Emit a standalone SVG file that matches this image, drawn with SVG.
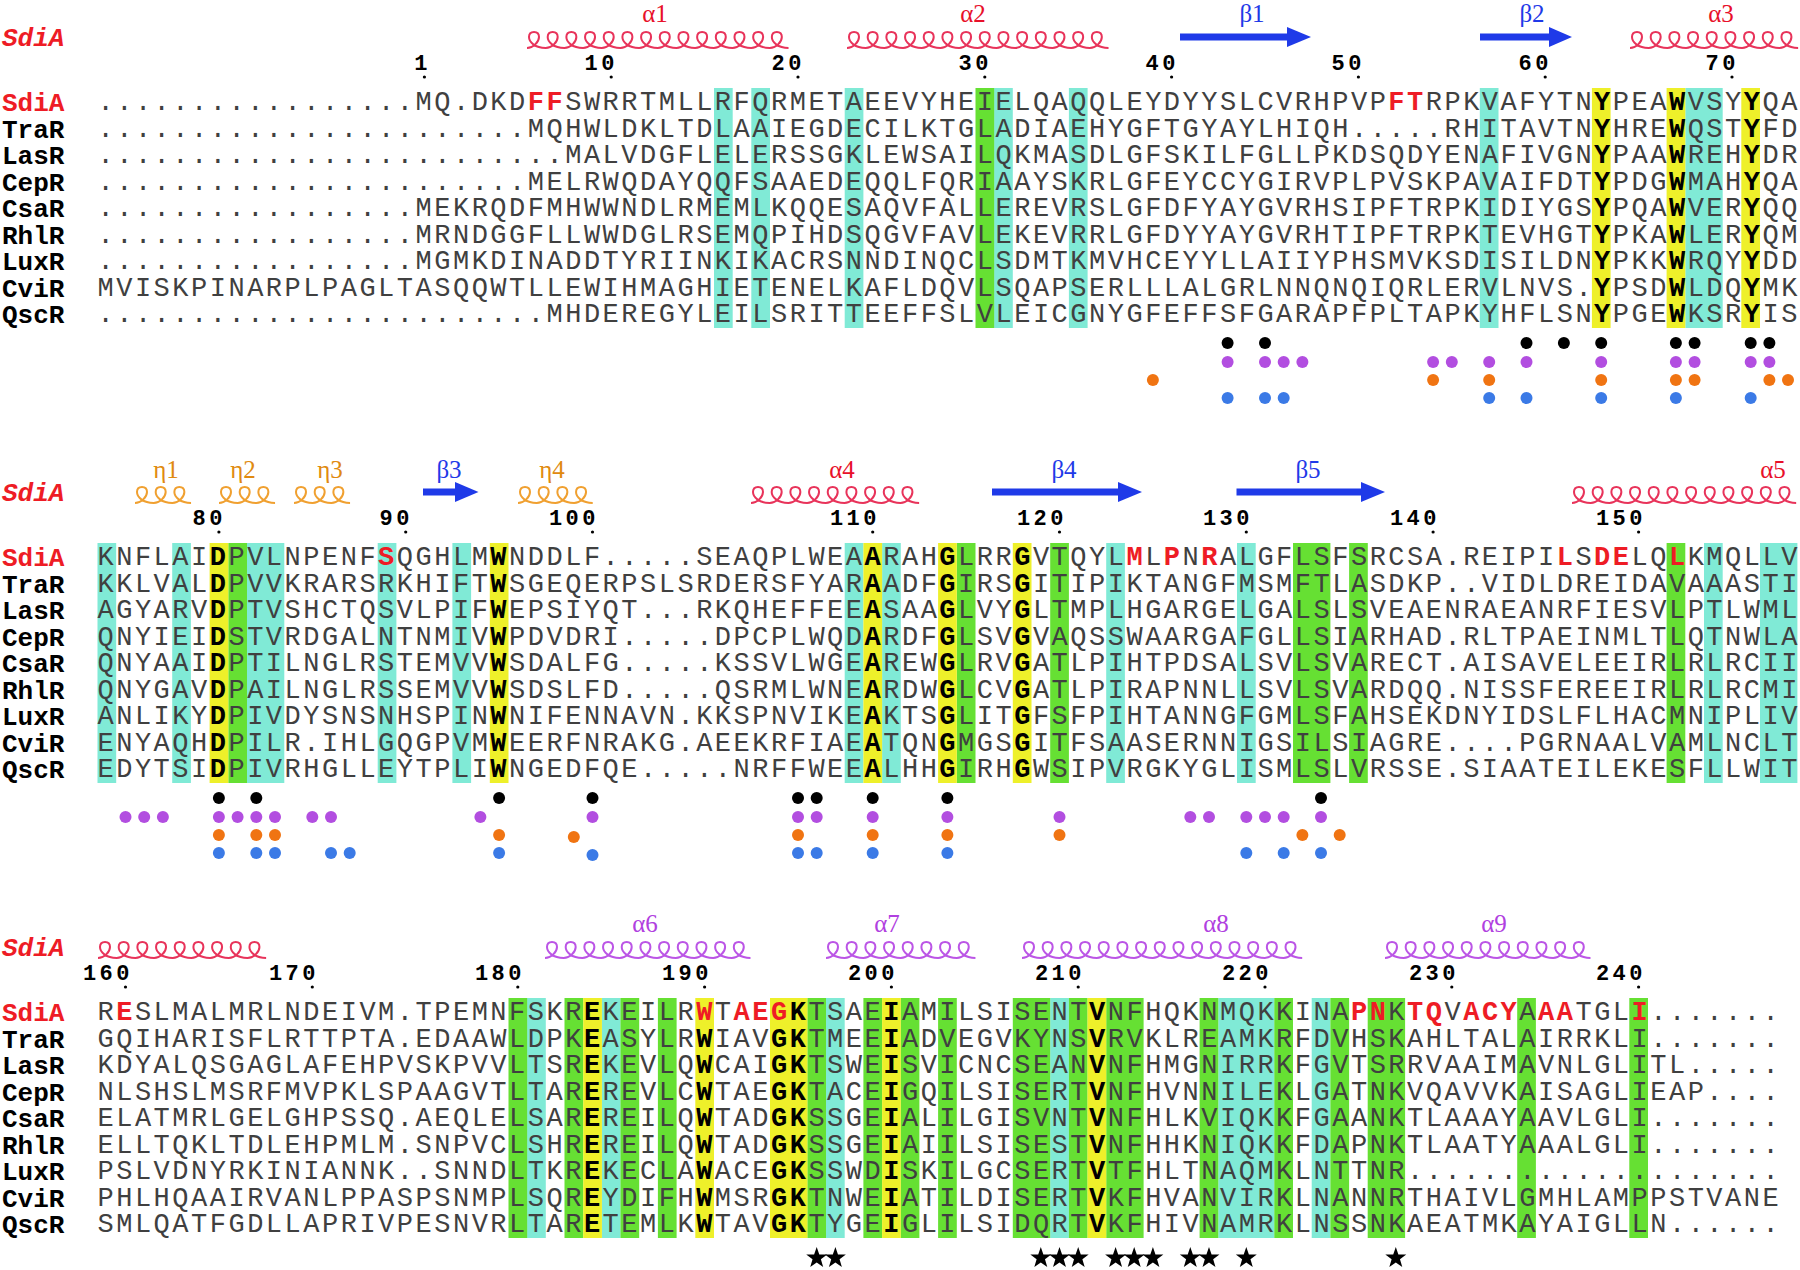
<svg xmlns="http://www.w3.org/2000/svg" xmlns:xlink="http://www.w3.org/1999/xlink" width="1800" height="1270" viewBox="0 0 1800 1270">
<style>
.s{font-family:"Liberation Mono",monospace;font-size:27px;fill:#404040}
.b{font-weight:bold;fill:#000}
.r{font-weight:bold;fill:#ee1c25}
.nm{font-family:"Liberation Mono",monospace;font-weight:bold;font-size:26px;fill:#000}
.hd{font-family:"Liberation Mono",monospace;font-weight:bold;font-style:italic;font-size:26px;fill:#ee1c25}
.num{font-family:"Liberation Mono",monospace;font-weight:bold;font-size:22px;letter-spacing:3.5px;fill:#000;text-anchor:end}
.lab{font-family:"Liberation Serif",serif;font-size:25px;text-anchor:middle}
.cy{fill:#80ead6}.gr{fill:#66e033}.ye{fill:#eef02a}
.hr{fill:none;stroke:#e8335a;stroke-width:2}
.hv{fill:none;stroke:#bb55e6;stroke-width:2}
.he{fill:none;stroke:#f0a030;stroke-width:2}
.be{fill:#1f3ae8}
.dk{fill:#000}.dm{fill:#b24ee0}.do{fill:#f07412}.db{fill:#3b7ae6}
</style>
<defs>
<polygon id="star" points="0,-11 2.59,-3.56 10.46,-3.4 4.18,1.36 6.47,8.9 0,4.4 -6.47,8.9 -4.18,1.36 -10.46,-3.4 -2.59,-3.56" fill="#000"/>
</defs>
<rect width="1800" height="1270" fill="#fff"/>

<g id="block1">
<g id="b1-shading">
<rect class="cy" x="714" y="88" width="18.7" height="240"/>
<rect class="cy" x="751.3" y="88" width="18.7" height="240"/>
<rect class="cy" x="844.7" y="88" width="18.7" height="240"/>
<rect class="cy" x="994.1" y="88" width="18.7" height="240"/>
<rect class="cy" x="1068.9" y="88" width="18.7" height="240"/>
<rect class="cy" x="1479.8" y="88" width="18.7" height="240"/>
<rect class="cy" x="1685.3" y="88" width="37.4" height="240"/>
<rect class="gr" x="975.5" y="88" width="18.7" height="240"/>
<rect class="ye" x="1591.9" y="88" width="18.7" height="240"/>
<rect class="ye" x="1666.6" y="88" width="18.7" height="240"/>
<rect class="ye" x="1741.3" y="88" width="18.7" height="240"/>
</g>
<g id="b1-ss">
<text class="hd" x="2" y="46">SdiA</text>
<path class="hr" d="M527,48 c6,0 12,-6 12,-11 c0,-3 -2,-5 -5,-5 c-3,0 -5,2 -5,5 c0,5 6,11 16.68,11 c6,0 12,-6 12,-11 c0,-3 -2,-5 -5,-5 c-3,0 -5,2 -5,5 c0,5 6,11 16.68,11 c6,0 12,-6 12,-11 c0,-3 -2,-5 -5,-5 c-3,0 -5,2 -5,5 c0,5 6,11 16.68,11 c6,0 12,-6 12,-11 c0,-3 -2,-5 -5,-5 c-3,0 -5,2 -5,5 c0,5 6,11 16.68,11 c6,0 12,-6 12,-11 c0,-3 -2,-5 -5,-5 c-3,0 -5,2 -5,5 c0,5 6,11 16.68,11 c6,0 12,-6 12,-11 c0,-3 -2,-5 -5,-5 c-3,0 -5,2 -5,5 c0,5 6,11 16.68,11 c6,0 12,-6 12,-11 c0,-3 -2,-5 -5,-5 c-3,0 -5,2 -5,5 c0,5 6,11 16.68,11 c6,0 12,-6 12,-11 c0,-3 -2,-5 -5,-5 c-3,0 -5,2 -5,5 c0,5 6,11 16.68,11 c6,0 12,-6 12,-11 c0,-3 -2,-5 -5,-5 c-3,0 -5,2 -5,5 c0,5 6,11 16.68,11 c6,0 12,-6 12,-11 c0,-3 -2,-5 -5,-5 c-3,0 -5,2 -5,5 c0,5 6,11 16.68,11 c6,0 12,-6 12,-11 c0,-3 -2,-5 -5,-5 c-3,0 -5,2 -5,5 c0,5 6,11 16.68,11 c6,0 12,-6 12,-11 c0,-3 -2,-5 -5,-5 c-3,0 -5,2 -5,5 c0,5 6,11 16.68,11 c6,0 12,-6 12,-11 c0,-3 -2,-5 -5,-5 c-3,0 -5,2 -5,5 c0,5 6,11 16.68,11 c6,0 12,-6 12,-11 c0,-3 -2,-5 -5,-5 c-3,0 -5,2 -5,5 c0,5 6,11 16.68,11"/>
<text class="lab" x="655" y="22" fill="#e8102a">α1</text>
<path class="hr" d="M847,48 c6,0 12,-6 12,-11 c0,-3 -2,-5 -5,-5 c-3,0 -5,2 -5,5 c0,5 6,11 16.68,11 c6,0 12,-6 12,-11 c0,-3 -2,-5 -5,-5 c-3,0 -5,2 -5,5 c0,5 6,11 16.68,11 c6,0 12,-6 12,-11 c0,-3 -2,-5 -5,-5 c-3,0 -5,2 -5,5 c0,5 6,11 16.68,11 c6,0 12,-6 12,-11 c0,-3 -2,-5 -5,-5 c-3,0 -5,2 -5,5 c0,5 6,11 16.68,11 c6,0 12,-6 12,-11 c0,-3 -2,-5 -5,-5 c-3,0 -5,2 -5,5 c0,5 6,11 16.68,11 c6,0 12,-6 12,-11 c0,-3 -2,-5 -5,-5 c-3,0 -5,2 -5,5 c0,5 6,11 16.68,11 c6,0 12,-6 12,-11 c0,-3 -2,-5 -5,-5 c-3,0 -5,2 -5,5 c0,5 6,11 16.68,11 c6,0 12,-6 12,-11 c0,-3 -2,-5 -5,-5 c-3,0 -5,2 -5,5 c0,5 6,11 16.68,11 c6,0 12,-6 12,-11 c0,-3 -2,-5 -5,-5 c-3,0 -5,2 -5,5 c0,5 6,11 16.68,11 c6,0 12,-6 12,-11 c0,-3 -2,-5 -5,-5 c-3,0 -5,2 -5,5 c0,5 6,11 16.68,11 c6,0 12,-6 12,-11 c0,-3 -2,-5 -5,-5 c-3,0 -5,2 -5,5 c0,5 6,11 16.68,11 c6,0 12,-6 12,-11 c0,-3 -2,-5 -5,-5 c-3,0 -5,2 -5,5 c0,5 6,11 16.68,11 c6,0 12,-6 12,-11 c0,-3 -2,-5 -5,-5 c-3,0 -5,2 -5,5 c0,5 6,11 16.68,11 c6,0 12,-6 12,-11 c0,-3 -2,-5 -5,-5 c-3,0 -5,2 -5,5 c0,5 6,11 16.68,11"/>
<text class="lab" x="973" y="22" fill="#e8102a">α2</text>
<rect class="be" x="1180" y="33.5" width="110" height="7"/><polygon class="be" points="1287,27 1311,37 1287,47"/>
<text class="lab" x="1252" y="22" fill="#1f3ae8">β1</text>
<rect class="be" x="1480" y="33.5" width="72" height="7"/><polygon class="be" points="1549,27 1572,37 1549,47"/>
<text class="lab" x="1532" y="22" fill="#1f3ae8">β2</text>
<path class="hr" d="M1630,48 c6,0 12,-6 12,-11 c0,-3 -2,-5 -5,-5 c-3,0 -5,2 -5,5 c0,5 6,11 16.68,11 c6,0 12,-6 12,-11 c0,-3 -2,-5 -5,-5 c-3,0 -5,2 -5,5 c0,5 6,11 16.68,11 c6,0 12,-6 12,-11 c0,-3 -2,-5 -5,-5 c-3,0 -5,2 -5,5 c0,5 6,11 16.68,11 c6,0 12,-6 12,-11 c0,-3 -2,-5 -5,-5 c-3,0 -5,2 -5,5 c0,5 6,11 16.68,11 c6,0 12,-6 12,-11 c0,-3 -2,-5 -5,-5 c-3,0 -5,2 -5,5 c0,5 6,11 16.68,11 c6,0 12,-6 12,-11 c0,-3 -2,-5 -5,-5 c-3,0 -5,2 -5,5 c0,5 6,11 16.68,11 c6,0 12,-6 12,-11 c0,-3 -2,-5 -5,-5 c-3,0 -5,2 -5,5 c0,5 6,11 16.68,11 c6,0 12,-6 12,-11 c0,-3 -2,-5 -5,-5 c-3,0 -5,2 -5,5 c0,5 6,11 16.68,11 c6,0 12,-6 12,-11 c0,-3 -2,-5 -5,-5 c-3,0 -5,2 -5,5 c0,5 6,11 16.68,11"/>
<text class="lab" x="1721" y="22" fill="#e8102a">α3</text>
</g>
<g id="b1-numbers">
<text class="num" x="431" y="70">1</text><text class="num" x="618" y="70">10</text><text class="num" x="805" y="70">20</text><text class="num" x="992" y="70">30</text><text class="num" x="1179" y="70">40</text><text class="num" x="1365" y="70">50</text><text class="num" x="1552" y="70">60</text><text class="num" x="1739" y="70">70</text>
<g fill="#000"><circle cx="424.4" cy="77" r="1.6"/><circle cx="611.2" cy="77" r="1.6"/><circle cx="798" cy="77" r="1.6"/><circle cx="984.8" cy="77" r="1.6"/><circle cx="1171.6" cy="77" r="1.6"/><circle cx="1358.4" cy="77" r="1.6"/><circle cx="1545.2" cy="77" r="1.6"/><circle cx="1732" cy="77" r="1.6"/></g>
</g>
<g id="b1-names">
<text class="nm" x="2" y="111" style="fill:#ee1c25">SdiA</text>
<text class="nm" x="2" y="137.5">TraR</text><text class="nm" x="2" y="164">LasR</text><text class="nm" x="2" y="190.5">CepR</text><text class="nm" x="2" y="217">CsaR</text><text class="nm" x="2" y="243.5">RhlR</text><text class="nm" x="2" y="270">LuxR</text><text class="nm" x="2" y="296.5">CviR</text><text class="nm" x="2" y="323">QscR</text>
</g>
<g id="b1-seq">
<text class="s" x="97.5" y="110" textLength="1699.9" lengthAdjust="spacing">.................MQ.DKD<tspan class="r">FF</tspan>SWRRTMLLRFQRMETAEEVYHEIELQAQQLEYDYYSLCVRHPVP<tspan class="r">FT</tspan>RPKVAFYTN<tspan class="b">Y</tspan>PEA<tspan class="b">W</tspan>VSY<tspan class="b">Y</tspan>QA</text>
<text class="s" x="97.5" y="136.5" textLength="1699.9" lengthAdjust="spacing">.......................MQHWLDKLTDLAAIEGDECILKTGLADIAEHYGFTGYAYLHIQH.....RHITAVTN<tspan class="b">Y</tspan>HRE<tspan class="b">W</tspan>QST<tspan class="b">Y</tspan>FD</text>
<text class="s" x="97.5" y="163" textLength="1699.9" lengthAdjust="spacing">.........................MALVDGFLELERSSGKLEWSAILQKMASDLGFSKILFGLLPKDSQDYENAFIVGN<tspan class="b">Y</tspan>PAA<tspan class="b">W</tspan>REH<tspan class="b">Y</tspan>DR</text>
<text class="s" x="97.5" y="189.5" textLength="1699.9" lengthAdjust="spacing">.......................MELRWQDAYQQFSAAEDEQQLFQRIAAYSKRLGFEYCCYGIRVPLPVSKPAVAIFDT<tspan class="b">Y</tspan>PDG<tspan class="b">W</tspan>MAH<tspan class="b">Y</tspan>QA</text>
<text class="s" x="97.5" y="216" textLength="1699.9" lengthAdjust="spacing">.................MEKRQDFMHWWNDLRMEMLKQQESAQVFALLEREVRSLGFDFYAYGVRHSIPFTRPKIDIYGS<tspan class="b">Y</tspan>PQA<tspan class="b">W</tspan>VER<tspan class="b">Y</tspan>QQ</text>
<text class="s" x="97.5" y="242.5" textLength="1699.9" lengthAdjust="spacing">.................MRNDGGFLLWWDGLRSEMQPIHDSQGVFAVLEKEVRRLGFDYYAYGVRHTIPFTRPKTEVHGT<tspan class="b">Y</tspan>PKA<tspan class="b">W</tspan>LER<tspan class="b">Y</tspan>QM</text>
<text class="s" x="97.5" y="269" textLength="1699.9" lengthAdjust="spacing">.................MGMKDINADDTYRIINKIKACRSNNDINQCLSDMTKMVHCEYYLLAIIYPHSMVKSDISILDN<tspan class="b">Y</tspan>PKK<tspan class="b">W</tspan>RQY<tspan class="b">Y</tspan>DD</text>
<text class="s" x="97.5" y="295.5" textLength="1699.9" lengthAdjust="spacing">MVISKPINARPLPAGLTASQQWTLLEWIHMAGHIETENELKAFLDQVLSQAPSERLLLALGRLNNQNQIQRLERVLNVS.<tspan class="b">Y</tspan>PSD<tspan class="b">W</tspan>LDQ<tspan class="b">Y</tspan>MK</text>
<text class="s" x="97.5" y="322" textLength="1699.9" lengthAdjust="spacing">........................MHDEREGYLEILSRITTEEFFSLVLEICGNYGFEFFSFGARAPFPLTAPKYHFLSN<tspan class="b">Y</tspan>PGE<tspan class="b">W</tspan>KSR<tspan class="b">Y</tspan>IS</text>
</g>
<g id="b1-dots">
<g class="dk"><circle cx="1227.6" cy="343" r="6"/><circle cx="1265" cy="343" r="6"/><circle cx="1526.5" cy="343" r="6"/><circle cx="1563.9" cy="343" r="6"/><circle cx="1601.2" cy="343" r="6"/><circle cx="1675.9" cy="343" r="6"/><circle cx="1694.6" cy="343" r="6"/><circle cx="1750.7" cy="343" r="6"/><circle cx="1769.4" cy="343" r="6"/></g>
<g class="dm"><circle cx="1227.6" cy="362" r="6"/><circle cx="1265" cy="362" r="6"/><circle cx="1283.7" cy="362" r="6"/><circle cx="1302.4" cy="362" r="6"/><circle cx="1433.1" cy="362" r="6"/><circle cx="1451.8" cy="362" r="6"/><circle cx="1489.2" cy="362" r="6"/><circle cx="1526.5" cy="362" r="6"/><circle cx="1601.2" cy="362" r="6"/><circle cx="1675.9" cy="362" r="6"/><circle cx="1694.6" cy="362" r="6"/><circle cx="1750.7" cy="362" r="6"/><circle cx="1769.4" cy="362" r="6"/></g>
<g class="do"><circle cx="1152.9" cy="380" r="6"/><circle cx="1433.1" cy="380" r="6"/><circle cx="1489.2" cy="380" r="6"/><circle cx="1601.2" cy="380" r="6"/><circle cx="1675.9" cy="380" r="6"/><circle cx="1694.6" cy="380" r="6"/><circle cx="1769.4" cy="380" r="6"/><circle cx="1788" cy="380" r="6"/></g>
<g class="db"><circle cx="1227.6" cy="398" r="6"/><circle cx="1265" cy="398" r="6"/><circle cx="1283.7" cy="398" r="6"/><circle cx="1489.2" cy="398" r="6"/><circle cx="1526.5" cy="398" r="6"/><circle cx="1601.2" cy="398" r="6"/><circle cx="1675.9" cy="398" r="6"/><circle cx="1750.7" cy="398" r="6"/></g>
</g>
</g>

<g id="block2">
<g id="b2-shading">
<rect class="cy" x="97.5" y="543" width="18.7" height="240"/>
<rect class="cy" x="172.2" y="543" width="18.7" height="240"/>
<rect class="cy" x="246.9" y="543" width="37.4" height="240"/>
<rect class="cy" x="377.7" y="543" width="18.7" height="240"/>
<rect class="cy" x="452.4" y="543" width="18.7" height="240"/>
<rect class="cy" x="844.7" y="543" width="18.7" height="240"/>
<rect class="cy" x="882.1" y="543" width="18.7" height="240"/>
<rect class="cy" x="1106.2" y="543" width="18.7" height="240"/>
<rect class="cy" x="1237" y="543" width="18.7" height="240"/>
<rect class="cy" x="1704" y="543" width="18.7" height="240"/>
<rect class="cy" x="1760" y="543" width="37.4" height="240"/>
<rect class="gr" x="228.3" y="543" width="18.7" height="240"/>
<rect class="gr" x="956.8" y="543" width="18.7" height="240"/>
<rect class="gr" x="1050.2" y="543" width="18.7" height="240"/>
<rect class="gr" x="1293" y="543" width="37.4" height="240"/>
<rect class="gr" x="1349.1" y="543" width="18.7" height="240"/>
<rect class="gr" x="1666.6" y="543" width="18.7" height="240"/>
<rect class="ye" x="209.6" y="543" width="18.7" height="240"/>
<rect class="ye" x="489.8" y="543" width="18.7" height="240"/>
<rect class="ye" x="863.4" y="543" width="18.7" height="240"/>
<rect class="ye" x="938.1" y="543" width="18.7" height="240"/>
<rect class="ye" x="1012.8" y="543" width="18.7" height="240"/>
</g>
<g id="b2-ss">
<text class="hd" x="2" y="501">SdiA</text>
<path class="he" d="M135,503 c6,0 12,-6 12,-11 c0,-3 -2,-5 -5,-5 c-3,0 -5,2 -5,5 c0,5 6,11 16.68,11 c6,0 12,-6 12,-11 c0,-3 -2,-5 -5,-5 c-3,0 -5,2 -5,5 c0,5 6,11 16.68,11 c6,0 12,-6 12,-11 c0,-3 -2,-5 -5,-5 c-3,0 -5,2 -5,5 c0,5 6,11 16.68,11"/>
<text class="lab" x="166" y="478" fill="#e08a10">η1</text>
<path class="he" d="M219,503 c6,0 12,-6 12,-11 c0,-3 -2,-5 -5,-5 c-3,0 -5,2 -5,5 c0,5 6,11 16.68,11 c6,0 12,-6 12,-11 c0,-3 -2,-5 -5,-5 c-3,0 -5,2 -5,5 c0,5 6,11 16.68,11 c6,0 12,-6 12,-11 c0,-3 -2,-5 -5,-5 c-3,0 -5,2 -5,5 c0,5 6,11 16.68,11"/>
<text class="lab" x="243" y="478" fill="#e08a10">η2</text>
<path class="he" d="M294,503 c6,0 12,-6 12,-11 c0,-3 -2,-5 -5,-5 c-3,0 -5,2 -5,5 c0,5 6,11 16.68,11 c6,0 12,-6 12,-11 c0,-3 -2,-5 -5,-5 c-3,0 -5,2 -5,5 c0,5 6,11 16.68,11 c6,0 12,-6 12,-11 c0,-3 -2,-5 -5,-5 c-3,0 -5,2 -5,5 c0,5 6,11 16.68,11"/>
<text class="lab" x="330" y="478" fill="#e08a10">η3</text>
<rect class="be" x="423" y="488.5" width="35" height="7"/><polygon class="be" points="455,482 478.5,492 455,502"/>
<text class="lab" x="449" y="478" fill="#1f3ae8">β3</text>
<path class="he" d="M518,503 c6,0 12,-6 12,-11 c0,-3 -2,-5 -5,-5 c-3,0 -5,2 -5,5 c0,5 6,11 16.68,11 c6,0 12,-6 12,-11 c0,-3 -2,-5 -5,-5 c-3,0 -5,2 -5,5 c0,5 6,11 16.68,11 c6,0 12,-6 12,-11 c0,-3 -2,-5 -5,-5 c-3,0 -5,2 -5,5 c0,5 6,11 16.68,11 c6,0 12,-6 12,-11 c0,-3 -2,-5 -5,-5 c-3,0 -5,2 -5,5 c0,5 6,11 16.68,11"/>
<text class="lab" x="552" y="478" fill="#e08a10">η4</text>
<path class="hr" d="M751,503 c6,0 12,-6 12,-11 c0,-3 -2,-5 -5,-5 c-3,0 -5,2 -5,5 c0,5 6,11 16.68,11 c6,0 12,-6 12,-11 c0,-3 -2,-5 -5,-5 c-3,0 -5,2 -5,5 c0,5 6,11 16.68,11 c6,0 12,-6 12,-11 c0,-3 -2,-5 -5,-5 c-3,0 -5,2 -5,5 c0,5 6,11 16.68,11 c6,0 12,-6 12,-11 c0,-3 -2,-5 -5,-5 c-3,0 -5,2 -5,5 c0,5 6,11 16.68,11 c6,0 12,-6 12,-11 c0,-3 -2,-5 -5,-5 c-3,0 -5,2 -5,5 c0,5 6,11 16.68,11 c6,0 12,-6 12,-11 c0,-3 -2,-5 -5,-5 c-3,0 -5,2 -5,5 c0,5 6,11 16.68,11 c6,0 12,-6 12,-11 c0,-3 -2,-5 -5,-5 c-3,0 -5,2 -5,5 c0,5 6,11 16.68,11 c6,0 12,-6 12,-11 c0,-3 -2,-5 -5,-5 c-3,0 -5,2 -5,5 c0,5 6,11 16.68,11 c6,0 12,-6 12,-11 c0,-3 -2,-5 -5,-5 c-3,0 -5,2 -5,5 c0,5 6,11 16.68,11"/>
<text class="lab" x="842" y="478" fill="#e8102a">α4</text>
<rect class="be" x="992" y="488.5" width="128" height="7"/><polygon class="be" points="1118,482 1142,492 1118,502"/>
<text class="lab" x="1064" y="478" fill="#1f3ae8">β4</text>
<rect class="be" x="1236.5" y="488.5" width="126" height="7"/><polygon class="be" points="1361,482 1385,492 1361,502"/>
<text class="lab" x="1308" y="478" fill="#1f3ae8">β5</text>
<path class="hr" d="M1572,503 c6,0 12,-6 12,-11 c0,-3 -2,-5 -5,-5 c-3,0 -5,2 -5,5 c0,5 6,11 16.68,11 c6,0 12,-6 12,-11 c0,-3 -2,-5 -5,-5 c-3,0 -5,2 -5,5 c0,5 6,11 16.68,11 c6,0 12,-6 12,-11 c0,-3 -2,-5 -5,-5 c-3,0 -5,2 -5,5 c0,5 6,11 16.68,11 c6,0 12,-6 12,-11 c0,-3 -2,-5 -5,-5 c-3,0 -5,2 -5,5 c0,5 6,11 16.68,11 c6,0 12,-6 12,-11 c0,-3 -2,-5 -5,-5 c-3,0 -5,2 -5,5 c0,5 6,11 16.68,11 c6,0 12,-6 12,-11 c0,-3 -2,-5 -5,-5 c-3,0 -5,2 -5,5 c0,5 6,11 16.68,11 c6,0 12,-6 12,-11 c0,-3 -2,-5 -5,-5 c-3,0 -5,2 -5,5 c0,5 6,11 16.68,11 c6,0 12,-6 12,-11 c0,-3 -2,-5 -5,-5 c-3,0 -5,2 -5,5 c0,5 6,11 16.68,11 c6,0 12,-6 12,-11 c0,-3 -2,-5 -5,-5 c-3,0 -5,2 -5,5 c0,5 6,11 16.68,11 c6,0 12,-6 12,-11 c0,-3 -2,-5 -5,-5 c-3,0 -5,2 -5,5 c0,5 6,11 16.68,11 c6,0 12,-6 12,-11 c0,-3 -2,-5 -5,-5 c-3,0 -5,2 -5,5 c0,5 6,11 16.68,11 c6,0 12,-6 12,-11 c0,-3 -2,-5 -5,-5 c-3,0 -5,2 -5,5 c0,5 6,11 16.68,11"/>
<text class="lab" x="1773" y="478" fill="#e8102a">α5</text>
</g>
<g id="b2-numbers">
<text class="num" x="226" y="525">80</text><text class="num" x="413" y="525">90</text><text class="num" x="599" y="525">100</text><text class="num" x="880" y="525">110</text><text class="num" x="1067" y="525">120</text><text class="num" x="1253" y="525">130</text><text class="num" x="1440" y="525">140</text><text class="num" x="1646" y="525">150</text>
<g fill="#000"><circle cx="218.9" cy="532" r="1.6"/><circle cx="405.7" cy="532" r="1.6"/><circle cx="592.5" cy="532" r="1.6"/><circle cx="872.7" cy="532" r="1.6"/><circle cx="1059.5" cy="532" r="1.6"/><circle cx="1246.3" cy="532" r="1.6"/><circle cx="1433.1" cy="532" r="1.6"/><circle cx="1638.6" cy="532" r="1.6"/></g>
</g>
<g id="b2-names">
<text class="nm" x="2" y="566" style="fill:#ee1c25">SdiA</text>
<text class="nm" x="2" y="592.5">TraR</text><text class="nm" x="2" y="619">LasR</text><text class="nm" x="2" y="645.5">CepR</text><text class="nm" x="2" y="672">CsaR</text><text class="nm" x="2" y="698.5">RhlR</text><text class="nm" x="2" y="725">LuxR</text><text class="nm" x="2" y="751.5">CviR</text><text class="nm" x="2" y="778">QscR</text>
</g>
<g id="b2-seq">
<text class="s" x="97.5" y="565" textLength="1699.9" lengthAdjust="spacing">KNFLAI<tspan class="b">D</tspan>PVLNPENF<tspan class="r">S</tspan>QGHLM<tspan class="b">W</tspan>NDDLF.....SEAQPLWEA<tspan class="b">A</tspan>RAH<tspan class="b">G</tspan>LRR<tspan class="b">G</tspan>VTQYL<tspan class="r">M</tspan>L<tspan class="r">P</tspan>N<tspan class="r">R</tspan>ALGFLSFSRCSA.REIPI<tspan class="r">L</tspan>S<tspan class="r">DE</tspan>LQ<tspan class="r">L</tspan>KMQLLV</text>
<text class="s" x="97.5" y="591.5" textLength="1699.9" lengthAdjust="spacing">KKLVAL<tspan class="b">D</tspan>PVVKRARSRKHIFT<tspan class="b">W</tspan>SGEQERPSLSRDERSFYAR<tspan class="b">A</tspan>ADF<tspan class="b">G</tspan>IRS<tspan class="b">G</tspan>ITIPIKTANGFMSMFTLASDKP..VIDLDREIDAVAAASTI</text>
<text class="s" x="97.5" y="618" textLength="1699.9" lengthAdjust="spacing">AGYARV<tspan class="b">D</tspan>PTVSHCTQSVLPIF<tspan class="b">W</tspan>EPSIYQT...RKQHEFFEE<tspan class="b">A</tspan>SAA<tspan class="b">G</tspan>LVY<tspan class="b">G</tspan>LTMPLHGARGELGALSLSVEAENRAEANRFIESVLPTLWML</text>
<text class="s" x="97.5" y="644.5" textLength="1699.9" lengthAdjust="spacing">QNYIEI<tspan class="b">D</tspan>STVRDGALNTNMIV<tspan class="b">W</tspan>PDVDRI.....DPCPLWQD<tspan class="b">A</tspan>RDF<tspan class="b">G</tspan>LSV<tspan class="b">G</tspan>VAQSSWAARGAFGLLSIARHAD.RLTPAEINMLTLQTNWLA</text>
<text class="s" x="97.5" y="671" textLength="1699.9" lengthAdjust="spacing">QNYAAI<tspan class="b">D</tspan>PTILNGLRSTEMVV<tspan class="b">W</tspan>SDALFG.....KSSVLWGE<tspan class="b">A</tspan>REW<tspan class="b">G</tspan>LRV<tspan class="b">G</tspan>ATLPIHTPDSALSVLSVARECT.AISAVELEEIRLRLRCII</text>
<text class="s" x="97.5" y="697.5" textLength="1699.9" lengthAdjust="spacing">QNYGAV<tspan class="b">D</tspan>PAILNGLRSSEMVV<tspan class="b">W</tspan>SDSLFD.....QSRMLWNE<tspan class="b">A</tspan>RDW<tspan class="b">G</tspan>LCV<tspan class="b">G</tspan>ATLPIRAPNNLLSVLSVARDQQ.NISSFEREEIRLRLRCMI</text>
<text class="s" x="97.5" y="724" textLength="1699.9" lengthAdjust="spacing">ANLIKY<tspan class="b">D</tspan>PIVDYSNSNHSPIN<tspan class="b">W</tspan>NIFENNAVN.KKSPNVIKE<tspan class="b">A</tspan>KTS<tspan class="b">G</tspan>LIT<tspan class="b">G</tspan>FSFPIHTANNGFGMLSFAHSEKDNYIDSLFLHACMNIPLIV</text>
<text class="s" x="97.5" y="750.5" textLength="1699.9" lengthAdjust="spacing">ENYAQH<tspan class="b">D</tspan>PILR.IHLGQGPVM<tspan class="b">W</tspan>EERFNRAKG.AEEKRFIAE<tspan class="b">A</tspan>TQN<tspan class="b">G</tspan>MGS<tspan class="b">G</tspan>ITFSAASERNNIGSILSIAGRE....PGRNAALVAMLNCLT</text>
<text class="s" x="97.5" y="777" textLength="1699.9" lengthAdjust="spacing">EDYTSI<tspan class="b">D</tspan>PIVRHGLLEYTPLI<tspan class="b">W</tspan>NGEDFQE.....NRFFWEE<tspan class="b">A</tspan>LHH<tspan class="b">G</tspan>IRH<tspan class="b">G</tspan>WSIPVRGKYGLISMLSLVRSSE.SIAATEILEKESFLLWIT</text>
</g>
<g id="b2-dots">
<g class="dk"><circle cx="218.9" cy="798" r="6"/><circle cx="256.3" cy="798" r="6"/><circle cx="499.1" cy="798" r="6"/><circle cx="592.5" cy="798" r="6"/><circle cx="798" cy="798" r="6"/><circle cx="816.7" cy="798" r="6"/><circle cx="872.7" cy="798" r="6"/><circle cx="947.4" cy="798" r="6"/><circle cx="1321" cy="798" r="6"/></g>
<g class="dm"><circle cx="125.5" cy="817" r="6"/><circle cx="144.2" cy="817" r="6"/><circle cx="162.9" cy="817" r="6"/><circle cx="218.9" cy="817" r="6"/><circle cx="237.6" cy="817" r="6"/><circle cx="256.3" cy="817" r="6"/><circle cx="275" cy="817" r="6"/><circle cx="312.3" cy="817" r="6"/><circle cx="331" cy="817" r="6"/><circle cx="480.4" cy="817" r="6"/><circle cx="592.5" cy="817" r="6"/><circle cx="798" cy="817" r="6"/><circle cx="816.7" cy="817" r="6"/><circle cx="872.7" cy="817" r="6"/><circle cx="947.4" cy="817" r="6"/><circle cx="1059.5" cy="817" r="6"/><circle cx="1190.3" cy="817" r="6"/><circle cx="1209" cy="817" r="6"/><circle cx="1246.3" cy="817" r="6"/><circle cx="1265" cy="817" r="6"/><circle cx="1283.7" cy="817" r="6"/><circle cx="1321" cy="817" r="6"/></g>
<g class="do"><circle cx="218.9" cy="835" r="6"/><circle cx="256.3" cy="835" r="6"/><circle cx="275" cy="835" r="6"/><circle cx="499.1" cy="835" r="6"/><circle cx="573.8" cy="837" r="6"/><circle cx="798" cy="835" r="6"/><circle cx="872.7" cy="835" r="6"/><circle cx="947.4" cy="835" r="6"/><circle cx="1059.5" cy="835" r="6"/><circle cx="1302.4" cy="835" r="6"/><circle cx="1339.7" cy="835" r="6"/></g>
<g class="db"><circle cx="218.9" cy="853" r="6"/><circle cx="256.3" cy="853" r="6"/><circle cx="275" cy="853" r="6"/><circle cx="331" cy="853" r="6"/><circle cx="349.7" cy="853" r="6"/><circle cx="499.1" cy="853" r="6"/><circle cx="592.5" cy="855" r="6"/><circle cx="798" cy="853" r="6"/><circle cx="816.7" cy="853" r="6"/><circle cx="872.7" cy="853" r="6"/><circle cx="947.4" cy="853" r="6"/><circle cx="1246.3" cy="853" r="6"/><circle cx="1283.7" cy="853" r="6"/><circle cx="1321" cy="853" r="6"/></g>
</g>
</g>

<g id="block3">
<g id="b3-shading">
<rect class="cy" x="527.1" y="998" width="18.7" height="240"/>
<rect class="cy" x="601.9" y="998" width="18.7" height="240"/>
<rect class="cy" x="826" y="998" width="18.7" height="240"/>
<rect class="cy" x="1050.2" y="998" width="18.7" height="240"/>
<rect class="cy" x="1218.3" y="998" width="56.1" height="240"/>
<rect class="cy" x="1311.7" y="998" width="18.7" height="240"/>
<rect class="gr" x="508.5" y="998" width="18.7" height="240"/>
<rect class="gr" x="564.5" y="998" width="18.7" height="240"/>
<rect class="gr" x="620.5" y="998" width="18.7" height="240"/>
<rect class="gr" x="657.9" y="998" width="18.7" height="240"/>
<rect class="gr" x="807.3" y="998" width="18.7" height="240"/>
<rect class="gr" x="863.4" y="998" width="18.7" height="240"/>
<rect class="gr" x="900.7" y="998" width="18.7" height="240"/>
<rect class="gr" x="938.1" y="998" width="18.7" height="240"/>
<rect class="gr" x="1012.8" y="998" width="37.4" height="240"/>
<rect class="gr" x="1068.9" y="998" width="18.7" height="240"/>
<rect class="gr" x="1106.2" y="998" width="37.4" height="240"/>
<rect class="gr" x="1199.6" y="998" width="18.7" height="240"/>
<rect class="gr" x="1274.3" y="998" width="18.7" height="240"/>
<rect class="gr" x="1330.4" y="998" width="18.7" height="240"/>
<rect class="gr" x="1367.7" y="998" width="37.4" height="240"/>
<rect class="gr" x="1517.2" y="998" width="18.7" height="240"/>
<rect class="gr" x="1629.3" y="998" width="18.7" height="240"/>
<rect class="ye" x="583.2" y="998" width="18.7" height="240"/>
<rect class="ye" x="695.3" y="998" width="18.7" height="240"/>
<rect class="ye" x="770" y="998" width="37.4" height="240"/>
<rect class="ye" x="882.1" y="998" width="18.7" height="240"/>
<rect class="ye" x="1087.5" y="998" width="18.7" height="240"/>
</g>
<g id="b3-ss">
<text class="hd" x="2" y="956">SdiA</text>
<path class="hr" d="M98,958 c6,0 12,-6 12,-11 c0,-3 -2,-5 -5,-5 c-3,0 -5,2 -5,5 c0,5 6,11 16.68,11 c6,0 12,-6 12,-11 c0,-3 -2,-5 -5,-5 c-3,0 -5,2 -5,5 c0,5 6,11 16.68,11 c6,0 12,-6 12,-11 c0,-3 -2,-5 -5,-5 c-3,0 -5,2 -5,5 c0,5 6,11 16.68,11 c6,0 12,-6 12,-11 c0,-3 -2,-5 -5,-5 c-3,0 -5,2 -5,5 c0,5 6,11 16.68,11 c6,0 12,-6 12,-11 c0,-3 -2,-5 -5,-5 c-3,0 -5,2 -5,5 c0,5 6,11 16.68,11 c6,0 12,-6 12,-11 c0,-3 -2,-5 -5,-5 c-3,0 -5,2 -5,5 c0,5 6,11 16.68,11 c6,0 12,-6 12,-11 c0,-3 -2,-5 -5,-5 c-3,0 -5,2 -5,5 c0,5 6,11 16.68,11 c6,0 12,-6 12,-11 c0,-3 -2,-5 -5,-5 c-3,0 -5,2 -5,5 c0,5 6,11 16.68,11 c6,0 12,-6 12,-11 c0,-3 -2,-5 -5,-5 c-3,0 -5,2 -5,5 c0,5 6,11 16.68,11"/>
<path class="hv" d="M545,958 c6,0 12,-6 12,-11 c0,-3 -2,-5 -5,-5 c-3,0 -5,2 -5,5 c0,5 6,11 16.68,11 c6,0 12,-6 12,-11 c0,-3 -2,-5 -5,-5 c-3,0 -5,2 -5,5 c0,5 6,11 16.68,11 c6,0 12,-6 12,-11 c0,-3 -2,-5 -5,-5 c-3,0 -5,2 -5,5 c0,5 6,11 16.68,11 c6,0 12,-6 12,-11 c0,-3 -2,-5 -5,-5 c-3,0 -5,2 -5,5 c0,5 6,11 16.68,11 c6,0 12,-6 12,-11 c0,-3 -2,-5 -5,-5 c-3,0 -5,2 -5,5 c0,5 6,11 16.68,11 c6,0 12,-6 12,-11 c0,-3 -2,-5 -5,-5 c-3,0 -5,2 -5,5 c0,5 6,11 16.68,11 c6,0 12,-6 12,-11 c0,-3 -2,-5 -5,-5 c-3,0 -5,2 -5,5 c0,5 6,11 16.68,11 c6,0 12,-6 12,-11 c0,-3 -2,-5 -5,-5 c-3,0 -5,2 -5,5 c0,5 6,11 16.68,11 c6,0 12,-6 12,-11 c0,-3 -2,-5 -5,-5 c-3,0 -5,2 -5,5 c0,5 6,11 16.68,11 c6,0 12,-6 12,-11 c0,-3 -2,-5 -5,-5 c-3,0 -5,2 -5,5 c0,5 6,11 16.68,11 c6,0 12,-6 12,-11 c0,-3 -2,-5 -5,-5 c-3,0 -5,2 -5,5 c0,5 6,11 16.68,11"/>
<text class="lab" x="645" y="932" fill="#b040e0">α6</text>
<path class="hv" d="M826,958 c6,0 12,-6 12,-11 c0,-3 -2,-5 -5,-5 c-3,0 -5,2 -5,5 c0,5 6,11 16.68,11 c6,0 12,-6 12,-11 c0,-3 -2,-5 -5,-5 c-3,0 -5,2 -5,5 c0,5 6,11 16.68,11 c6,0 12,-6 12,-11 c0,-3 -2,-5 -5,-5 c-3,0 -5,2 -5,5 c0,5 6,11 16.68,11 c6,0 12,-6 12,-11 c0,-3 -2,-5 -5,-5 c-3,0 -5,2 -5,5 c0,5 6,11 16.68,11 c6,0 12,-6 12,-11 c0,-3 -2,-5 -5,-5 c-3,0 -5,2 -5,5 c0,5 6,11 16.68,11 c6,0 12,-6 12,-11 c0,-3 -2,-5 -5,-5 c-3,0 -5,2 -5,5 c0,5 6,11 16.68,11 c6,0 12,-6 12,-11 c0,-3 -2,-5 -5,-5 c-3,0 -5,2 -5,5 c0,5 6,11 16.68,11 c6,0 12,-6 12,-11 c0,-3 -2,-5 -5,-5 c-3,0 -5,2 -5,5 c0,5 6,11 16.68,11"/>
<text class="lab" x="887" y="932" fill="#b040e0">α7</text>
<path class="hv" d="M1022,958 c6,0 12,-6 12,-11 c0,-3 -2,-5 -5,-5 c-3,0 -5,2 -5,5 c0,5 6,11 16.68,11 c6,0 12,-6 12,-11 c0,-3 -2,-5 -5,-5 c-3,0 -5,2 -5,5 c0,5 6,11 16.68,11 c6,0 12,-6 12,-11 c0,-3 -2,-5 -5,-5 c-3,0 -5,2 -5,5 c0,5 6,11 16.68,11 c6,0 12,-6 12,-11 c0,-3 -2,-5 -5,-5 c-3,0 -5,2 -5,5 c0,5 6,11 16.68,11 c6,0 12,-6 12,-11 c0,-3 -2,-5 -5,-5 c-3,0 -5,2 -5,5 c0,5 6,11 16.68,11 c6,0 12,-6 12,-11 c0,-3 -2,-5 -5,-5 c-3,0 -5,2 -5,5 c0,5 6,11 16.68,11 c6,0 12,-6 12,-11 c0,-3 -2,-5 -5,-5 c-3,0 -5,2 -5,5 c0,5 6,11 16.68,11 c6,0 12,-6 12,-11 c0,-3 -2,-5 -5,-5 c-3,0 -5,2 -5,5 c0,5 6,11 16.68,11 c6,0 12,-6 12,-11 c0,-3 -2,-5 -5,-5 c-3,0 -5,2 -5,5 c0,5 6,11 16.68,11 c6,0 12,-6 12,-11 c0,-3 -2,-5 -5,-5 c-3,0 -5,2 -5,5 c0,5 6,11 16.68,11 c6,0 12,-6 12,-11 c0,-3 -2,-5 -5,-5 c-3,0 -5,2 -5,5 c0,5 6,11 16.68,11 c6,0 12,-6 12,-11 c0,-3 -2,-5 -5,-5 c-3,0 -5,2 -5,5 c0,5 6,11 16.68,11 c6,0 12,-6 12,-11 c0,-3 -2,-5 -5,-5 c-3,0 -5,2 -5,5 c0,5 6,11 16.68,11 c6,0 12,-6 12,-11 c0,-3 -2,-5 -5,-5 c-3,0 -5,2 -5,5 c0,5 6,11 16.68,11 c6,0 12,-6 12,-11 c0,-3 -2,-5 -5,-5 c-3,0 -5,2 -5,5 c0,5 6,11 16.68,11"/>
<text class="lab" x="1216" y="932" fill="#b040e0">α8</text>
<path class="hv" d="M1385,958 c6,0 12,-6 12,-11 c0,-3 -2,-5 -5,-5 c-3,0 -5,2 -5,5 c0,5 6,11 16.68,11 c6,0 12,-6 12,-11 c0,-3 -2,-5 -5,-5 c-3,0 -5,2 -5,5 c0,5 6,11 16.68,11 c6,0 12,-6 12,-11 c0,-3 -2,-5 -5,-5 c-3,0 -5,2 -5,5 c0,5 6,11 16.68,11 c6,0 12,-6 12,-11 c0,-3 -2,-5 -5,-5 c-3,0 -5,2 -5,5 c0,5 6,11 16.68,11 c6,0 12,-6 12,-11 c0,-3 -2,-5 -5,-5 c-3,0 -5,2 -5,5 c0,5 6,11 16.68,11 c6,0 12,-6 12,-11 c0,-3 -2,-5 -5,-5 c-3,0 -5,2 -5,5 c0,5 6,11 16.68,11 c6,0 12,-6 12,-11 c0,-3 -2,-5 -5,-5 c-3,0 -5,2 -5,5 c0,5 6,11 16.68,11 c6,0 12,-6 12,-11 c0,-3 -2,-5 -5,-5 c-3,0 -5,2 -5,5 c0,5 6,11 16.68,11 c6,0 12,-6 12,-11 c0,-3 -2,-5 -5,-5 c-3,0 -5,2 -5,5 c0,5 6,11 16.68,11 c6,0 12,-6 12,-11 c0,-3 -2,-5 -5,-5 c-3,0 -5,2 -5,5 c0,5 6,11 16.68,11 c6,0 12,-6 12,-11 c0,-3 -2,-5 -5,-5 c-3,0 -5,2 -5,5 c0,5 6,11 16.68,11"/>
<text class="lab" x="1494" y="932" fill="#b040e0">α9</text>
</g>
<g id="b3-numbers">
<text class="num" x="133" y="980">160</text><text class="num" x="319" y="980">170</text><text class="num" x="525" y="980">180</text><text class="num" x="712" y="980">190</text><text class="num" x="898" y="980">200</text><text class="num" x="1085" y="980">210</text><text class="num" x="1272" y="980">220</text><text class="num" x="1459" y="980">230</text><text class="num" x="1646" y="980">240</text>
<g fill="#000"><circle cx="125.5" cy="987" r="1.6"/><circle cx="312.3" cy="987" r="1.6"/><circle cx="517.8" cy="987" r="1.6"/><circle cx="704.6" cy="987" r="1.6"/><circle cx="891.4" cy="987" r="1.6"/><circle cx="1078.2" cy="987" r="1.6"/><circle cx="1265" cy="987" r="1.6"/><circle cx="1451.8" cy="987" r="1.6"/><circle cx="1638.6" cy="987" r="1.6"/></g>
</g>
<g id="b3-names">
<text class="nm" x="2" y="1021" style="fill:#ee1c25">SdiA</text>
<text class="nm" x="2" y="1047.5">TraR</text><text class="nm" x="2" y="1074">LasR</text><text class="nm" x="2" y="1100.5">CepR</text><text class="nm" x="2" y="1127">CsaR</text><text class="nm" x="2" y="1153.5">RhlR</text><text class="nm" x="2" y="1180">LuxR</text><text class="nm" x="2" y="1206.5">CviR</text><text class="nm" x="2" y="1233">QscR</text>
</g>
<g id="b3-seq">
<text class="s" x="97.5" y="1020" textLength="1681.2" lengthAdjust="spacing">R<tspan class="r">E</tspan>SLMALMRLNDEIVM.TPEMNFSKR<tspan class="b">E</tspan>KEILR<tspan class="r">W</tspan>T<tspan class="r">AEG</tspan><tspan class="b">K</tspan>TSAE<tspan class="b">I</tspan>AMILSISENT<tspan class="b">V</tspan>NFHQKNMQKKINA<tspan class="r">PN</tspan>K<tspan class="r">TQ</tspan>V<tspan class="r">ACY</tspan>A<tspan class="r">AA</tspan>TGL<tspan class="r">I</tspan>.......</text>
<text class="s" x="97.5" y="1046.5" textLength="1681.2" lengthAdjust="spacing">GQIHARISFLRTTPTA.EDAAWLDPK<tspan class="b">E</tspan>ASYLR<tspan class="b">W</tspan>IAV<tspan class="b">GK</tspan>TMEE<tspan class="b">I</tspan>ADVEGVKYNS<tspan class="b">V</tspan>RVKLREAMKRFDVHSKAHLTALAIRRKLI.......</text>
<text class="s" x="97.5" y="1073" textLength="1681.2" lengthAdjust="spacing">KDYALQSGAGLAFEHPVSKPVVLTSR<tspan class="b">E</tspan>KEVLQ<tspan class="b">W</tspan>CAI<tspan class="b">GK</tspan>TSWE<tspan class="b">I</tspan>SVICNCSEAN<tspan class="b">V</tspan>NFHMGNIRRKFGVTSRRVAAIMAVNLGLITL.....</text>
<text class="s" x="97.5" y="1099.5" textLength="1681.2" lengthAdjust="spacing">NLSHSLMSRFMVPKLSPAAGVTLTAR<tspan class="b">E</tspan>REVLC<tspan class="b">W</tspan>TAE<tspan class="b">GK</tspan>TACE<tspan class="b">I</tspan>GQILSISERT<tspan class="b">V</tspan>NFHVNNILEKLGATNKVQAVVKAISAGLIEAP....</text>
<text class="s" x="97.5" y="1126" textLength="1681.2" lengthAdjust="spacing">ELATMRLGELGHPSSQ.AEQLELSAR<tspan class="b">E</tspan>REILQ<tspan class="b">W</tspan>TAD<tspan class="b">GK</tspan>SSGE<tspan class="b">I</tspan>ALILGISVNT<tspan class="b">V</tspan>NFHLKVIQKKFGAANKTLAAAYAAVLGLI.......</text>
<text class="s" x="97.5" y="1152.5" textLength="1681.2" lengthAdjust="spacing">ELLTQKLTDLEHPMLM.SNPVCLSHR<tspan class="b">E</tspan>REILQ<tspan class="b">W</tspan>TAD<tspan class="b">GK</tspan>SSGE<tspan class="b">I</tspan>AIILSISEST<tspan class="b">V</tspan>NFHHKNIQKKFDAPNKTLAATYAAALGLI.......</text>
<text class="s" x="97.5" y="1179" textLength="1681.2" lengthAdjust="spacing">PSLVDNYRKINIANNK..SNNDLTKR<tspan class="b">E</tspan>KECLA<tspan class="b">W</tspan>ACE<tspan class="b">GK</tspan>SSWD<tspan class="b">I</tspan>SKILGCSERT<tspan class="b">V</tspan>TFHLTNAQMKLNTTNR....................</text>
<text class="s" x="97.5" y="1205.5" textLength="1681.2" lengthAdjust="spacing">PHLHQAAIRVANLPPASPSNMPLSQR<tspan class="b">E</tspan>YDIFH<tspan class="b">W</tspan>MSR<tspan class="b">GK</tspan>TNWE<tspan class="b">I</tspan>ATILDISERT<tspan class="b">V</tspan>KFHVANVIRKLNANNRTHAIVLGMHLAMPPSTVANE</text>
<text class="s" x="97.5" y="1232" textLength="1681.2" lengthAdjust="spacing">SMLQATFGDLLAPRIVPESNVRLTAR<tspan class="b">E</tspan>TEMLK<tspan class="b">W</tspan>TAV<tspan class="b">GK</tspan>TYGE<tspan class="b">I</tspan>GLILSIDQRT<tspan class="b">V</tspan>KFHIVNAMRKLNSSNKAEATMKAYAIGLLN......</text>
</g>
<g id="b3-stars">
<use xlink:href="#star" x="816.7" y="1258"/><use xlink:href="#star" x="835.4" y="1258"/>
<use xlink:href="#star" x="1040.8" y="1258"/><use xlink:href="#star" x="1059.5" y="1258"/><use xlink:href="#star" x="1078.2" y="1258"/>
<use xlink:href="#star" x="1115.6" y="1258"/><use xlink:href="#star" x="1134.2" y="1258"/><use xlink:href="#star" x="1152.9" y="1258"/>
<use xlink:href="#star" x="1190.3" y="1258"/><use xlink:href="#star" x="1209" y="1258"/>
<use xlink:href="#star" x="1246.3" y="1258"/><use xlink:href="#star" x="1395.8" y="1258"/>
</g>
</g>
</svg>
